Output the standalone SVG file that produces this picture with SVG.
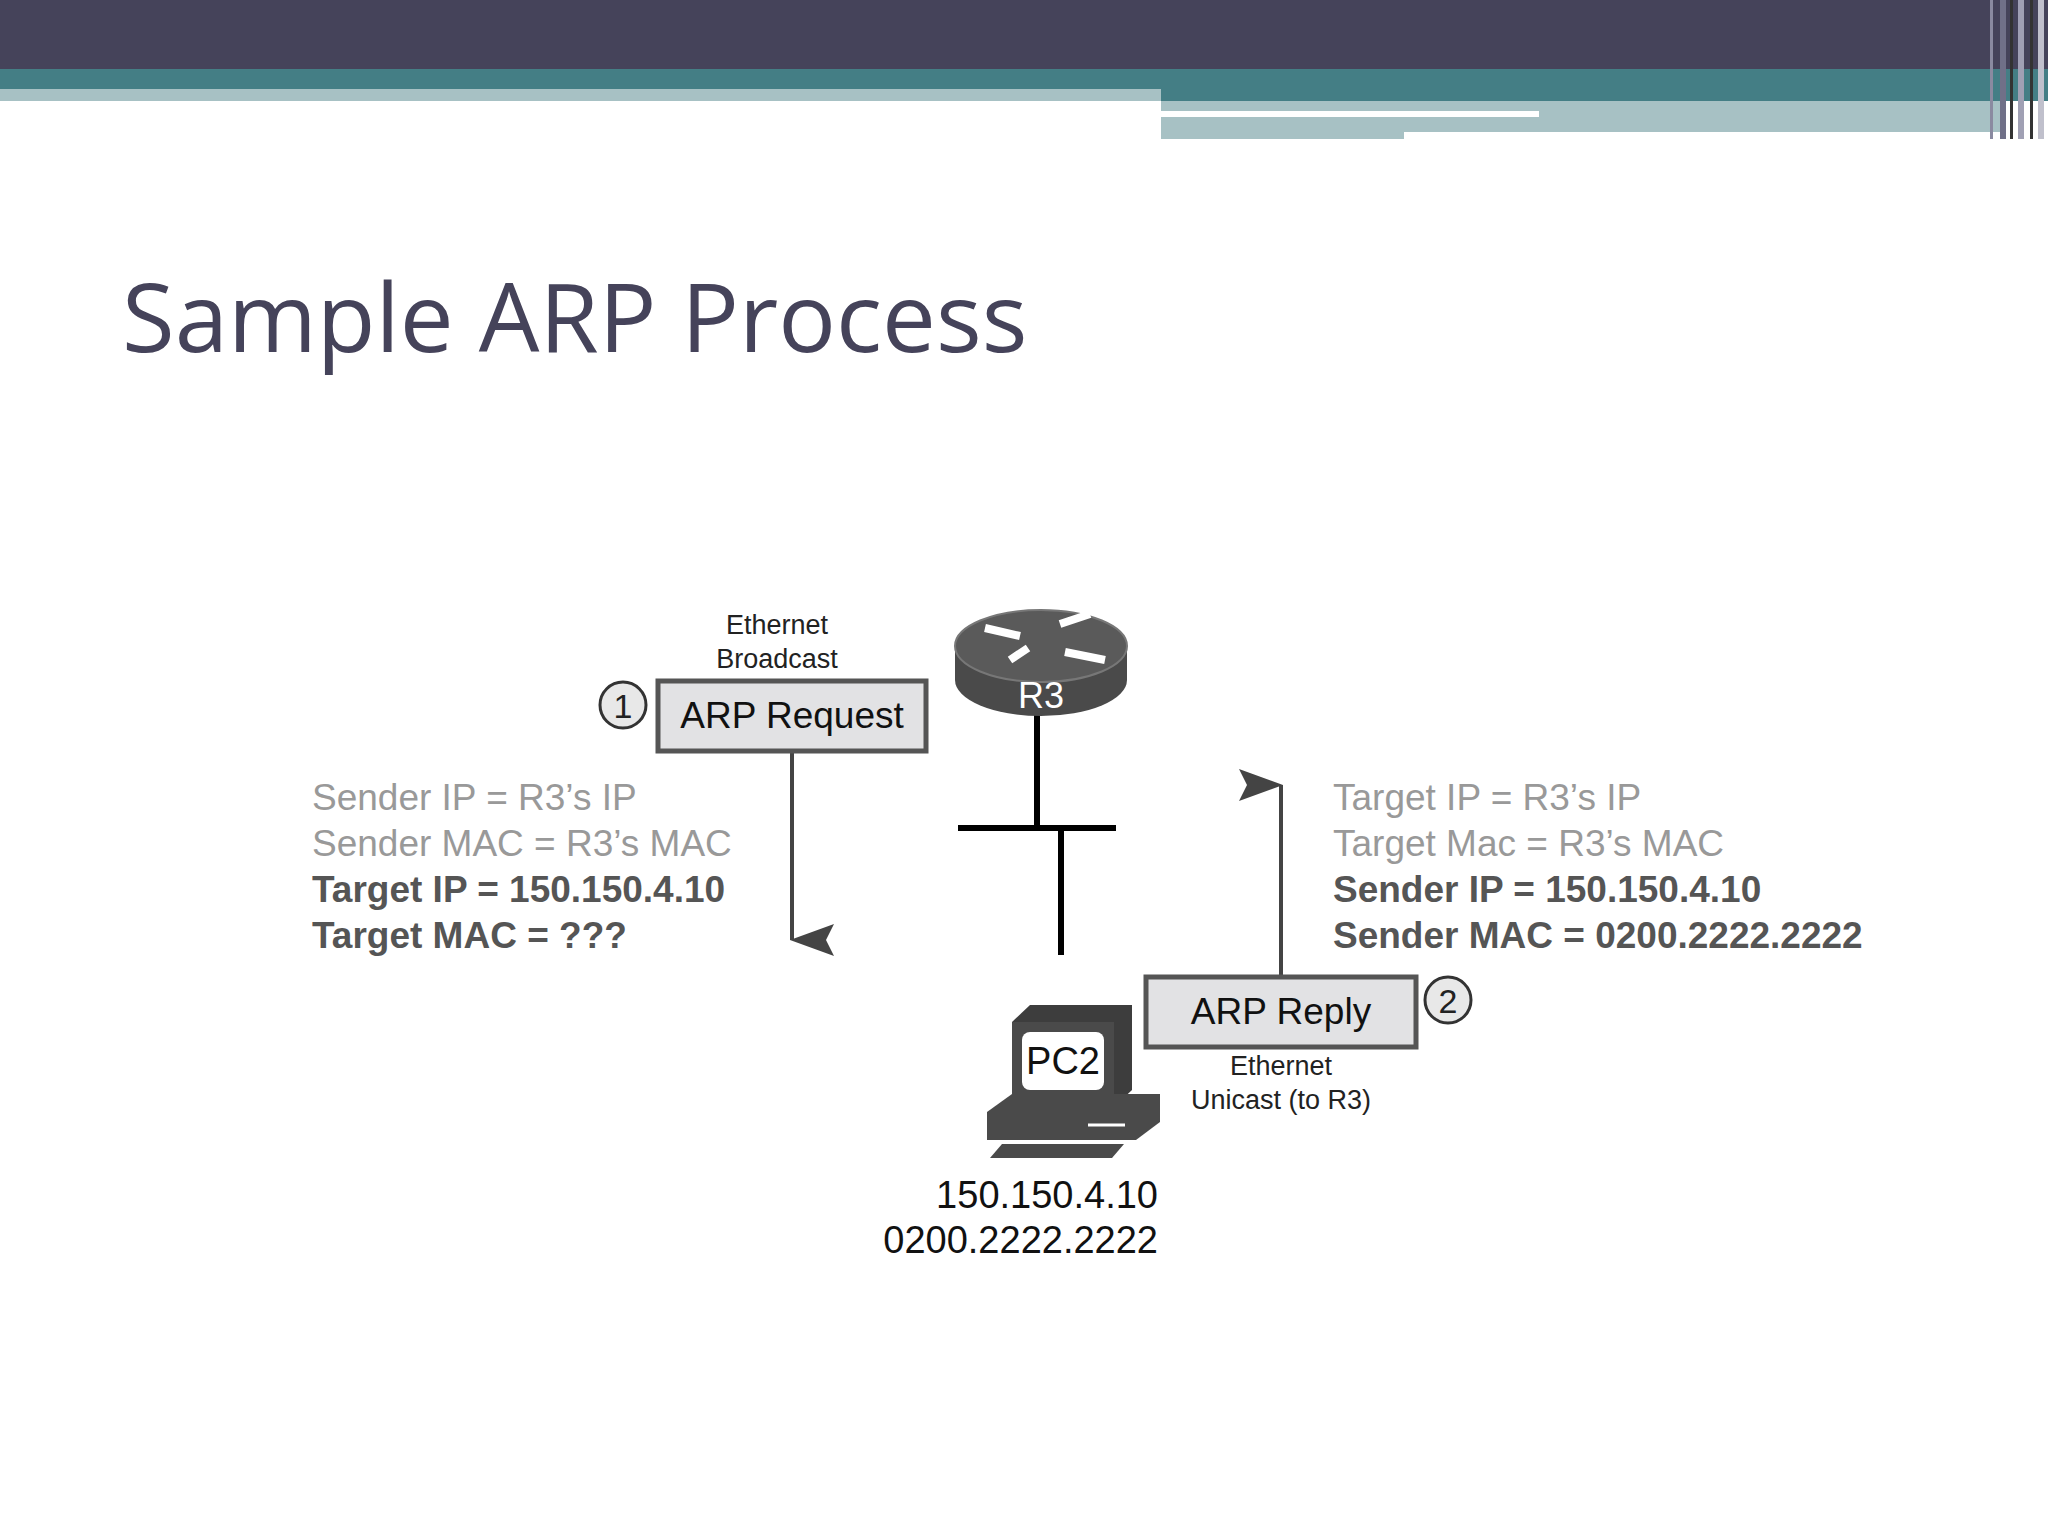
<svg xmlns="http://www.w3.org/2000/svg" width="2048" height="1536" viewBox="0 0 2048 1536">
<style>
.t{font-family:"Liberation Sans",Arial,sans-serif}
.g{fill:#999;font-size:37px}
.b{fill:#555;font-size:37px;font-weight:bold}
.s{fill:#222;font-size:27px;text-anchor:middle}
.box{fill:#e2e2e4;stroke:#555;stroke-width:5}
.ln{stroke:#000;stroke-width:6;fill:none}
</style>
<defs>
<marker id="ah" markerWidth="10" markerHeight="12" refX="5" refY="12" orient="auto-start-reverse" markerUnits="userSpaceOnUse" viewBox="0 0 10 12"><path d="M0,0 L5,12 L10,0 L5,3 Z" fill="#444"/></marker>
<marker id="a2" viewBox="0 0 32 44" refX="16" refY="42" markerWidth="32" markerHeight="44" orient="auto" markerUnits="userSpaceOnUse"><path d="M0,0 L16,44 L32,0 L16,8 Z" fill="#444"/></marker>
</defs>
<rect width="2048" height="1536" fill="#fff"/>
<g id="header">
<rect x="0" y="0" width="2048" height="69" fill="#45435a"/>
<rect x="0" y="69" width="2048" height="32" fill="#447e85"/>
<rect x="0" y="89" width="1161" height="12" fill="#a7c1c4"/>
<rect x="1161" y="101" width="840" height="31" fill="#a7c1c4"/>
<rect x="1161" y="132" width="243" height="7" fill="#a7c1c4"/>
<rect x="1161" y="111" width="378" height="6" fill="#fff"/>
<rect x="1990" y="0" width="3" height="139" fill="#8a8aa0"/>
<rect x="2000" y="0" width="6" height="139" fill="#707088"/>
<rect x="2010" y="0" width="3" height="139" fill="#333"/>
<rect x="2018" y="0" width="6" height="139" fill="#a0a0b4"/>
<rect x="2030" y="0" width="3" height="139" fill="#333"/>
<rect x="2038" y="0" width="6" height="139" fill="#c0c0cc"/>
</g>
<text id="title" x="122" y="352" font-family="'Open Sans','DejaVu Sans',sans-serif" font-size="96" fill="#45435a">Sample ARP Process</text>
<g id="connectors">
<line class="ln" x1="1037" y1="700" x2="1037" y2="828"/>
<line class="ln" x1="958" y1="828" x2="1116" y2="828"/>
<line class="ln" x1="1061" y1="828" x2="1061" y2="955"/>
<line x1="792" y1="752" x2="792" y2="940" stroke="#444" stroke-width="4" marker-end="url(#a2)"/>
<line x1="1281" y1="976" x2="1281" y2="785" stroke="#444" stroke-width="4" marker-end="url(#a2)"/>
</g>
<g id="R3">
<path d="M955,646 L955,680 A86,36 0 0 0 1127,680 L1127,646 Z" fill="#4a4a4a"/>
<ellipse cx="1041" cy="646" rx="86" ry="36" fill="#5a5a5a" stroke="#777" stroke-width="2"/>
<path d="M985,628 L1020,636 M1010,660 L1028,648 M1060,624 L1090,614 M1065,652 L1105,660" stroke="#fff" stroke-width="8"/>
<text class="t" x="1041" y="708" font-size="36" fill="#fff" text-anchor="middle">R3</text>
</g>
<g id="PC2">
<path d="M1012,1022 L1030,1005 L1132,1005 L1132,1090 L1114,1107 Z" fill="#3d3d3d"/>
<rect x="1012" y="1022" width="102" height="85" fill="#4a4a4a"/>
<rect x="1022" y="1032" width="82" height="58" rx="8" fill="#fff"/>
<text class="t" x="1063" y="1074" font-size="38" fill="#111" text-anchor="middle">PC2</text>
<path d="M987,1112 L1012,1094 L1160,1094 L1160,1122 L1136,1140 L987,1140 Z" fill="#4a4a4a"/>
<line x1="1088" y1="1125" x2="1125" y2="1125" stroke="#fff" stroke-width="3"/>
<path d="M990,1158 L1002,1144 L1124,1144 L1112,1158 Z" fill="#4a4a4a"/>
</g>
<g id="req">
<rect class="box" x="658" y="681" width="268" height="70"/>
<text class="t" x="792" y="728" font-size="37" fill="#111" text-anchor="middle">ARP Request</text>
<circle cx="623" cy="705" r="23" fill="#e8e8e8" stroke="#333" stroke-width="3"/>
<text class="t" x="623" y="718" font-size="34" fill="#222" text-anchor="middle">1</text>
<text class="t s" x="777" y="634">Ethernet</text>
<text class="t s" x="777" y="668">Broadcast</text>
<text class="t g" x="312" y="810">Sender IP = R3’s IP</text>
<text class="t g" x="312" y="856">Sender MAC = R3’s MAC</text>
<text class="t b" x="312" y="902">Target IP = 150.150.4.10</text>
<text class="t b" x="312" y="948">Target MAC = ???</text>
</g>
<g id="rep">
<rect class="box" x="1146" y="977" width="270" height="70"/>
<text class="t" x="1281" y="1024" font-size="37" fill="#111" text-anchor="middle">ARP Reply</text>
<circle cx="1448" cy="1000" r="23" fill="#e8e8e8" stroke="#333" stroke-width="3"/>
<text class="t" x="1448" y="1013" font-size="34" fill="#222" text-anchor="middle">2</text>
<text class="t s" x="1281" y="1075">Ethernet</text>
<text class="t s" x="1281" y="1109">Unicast (to R3)</text>
<text class="t g" x="1333" y="810">Target IP = R3’s IP</text>
<text class="t g" x="1333" y="856">Target Mac = R3’s MAC</text>
<text class="t b" x="1333" y="902">Sender IP = 150.150.4.10</text>
<text class="t b" x="1333" y="948">Sender MAC = 0200.2222.2222</text>
</g>
<g id="addr">
<text class="t" x="1158" y="1208" font-size="38" fill="#111" text-anchor="end">150.150.4.10</text>
<text class="t" x="1158" y="1253" font-size="38" fill="#111" text-anchor="end">0200.2222.2222</text>
</g>
</svg>
